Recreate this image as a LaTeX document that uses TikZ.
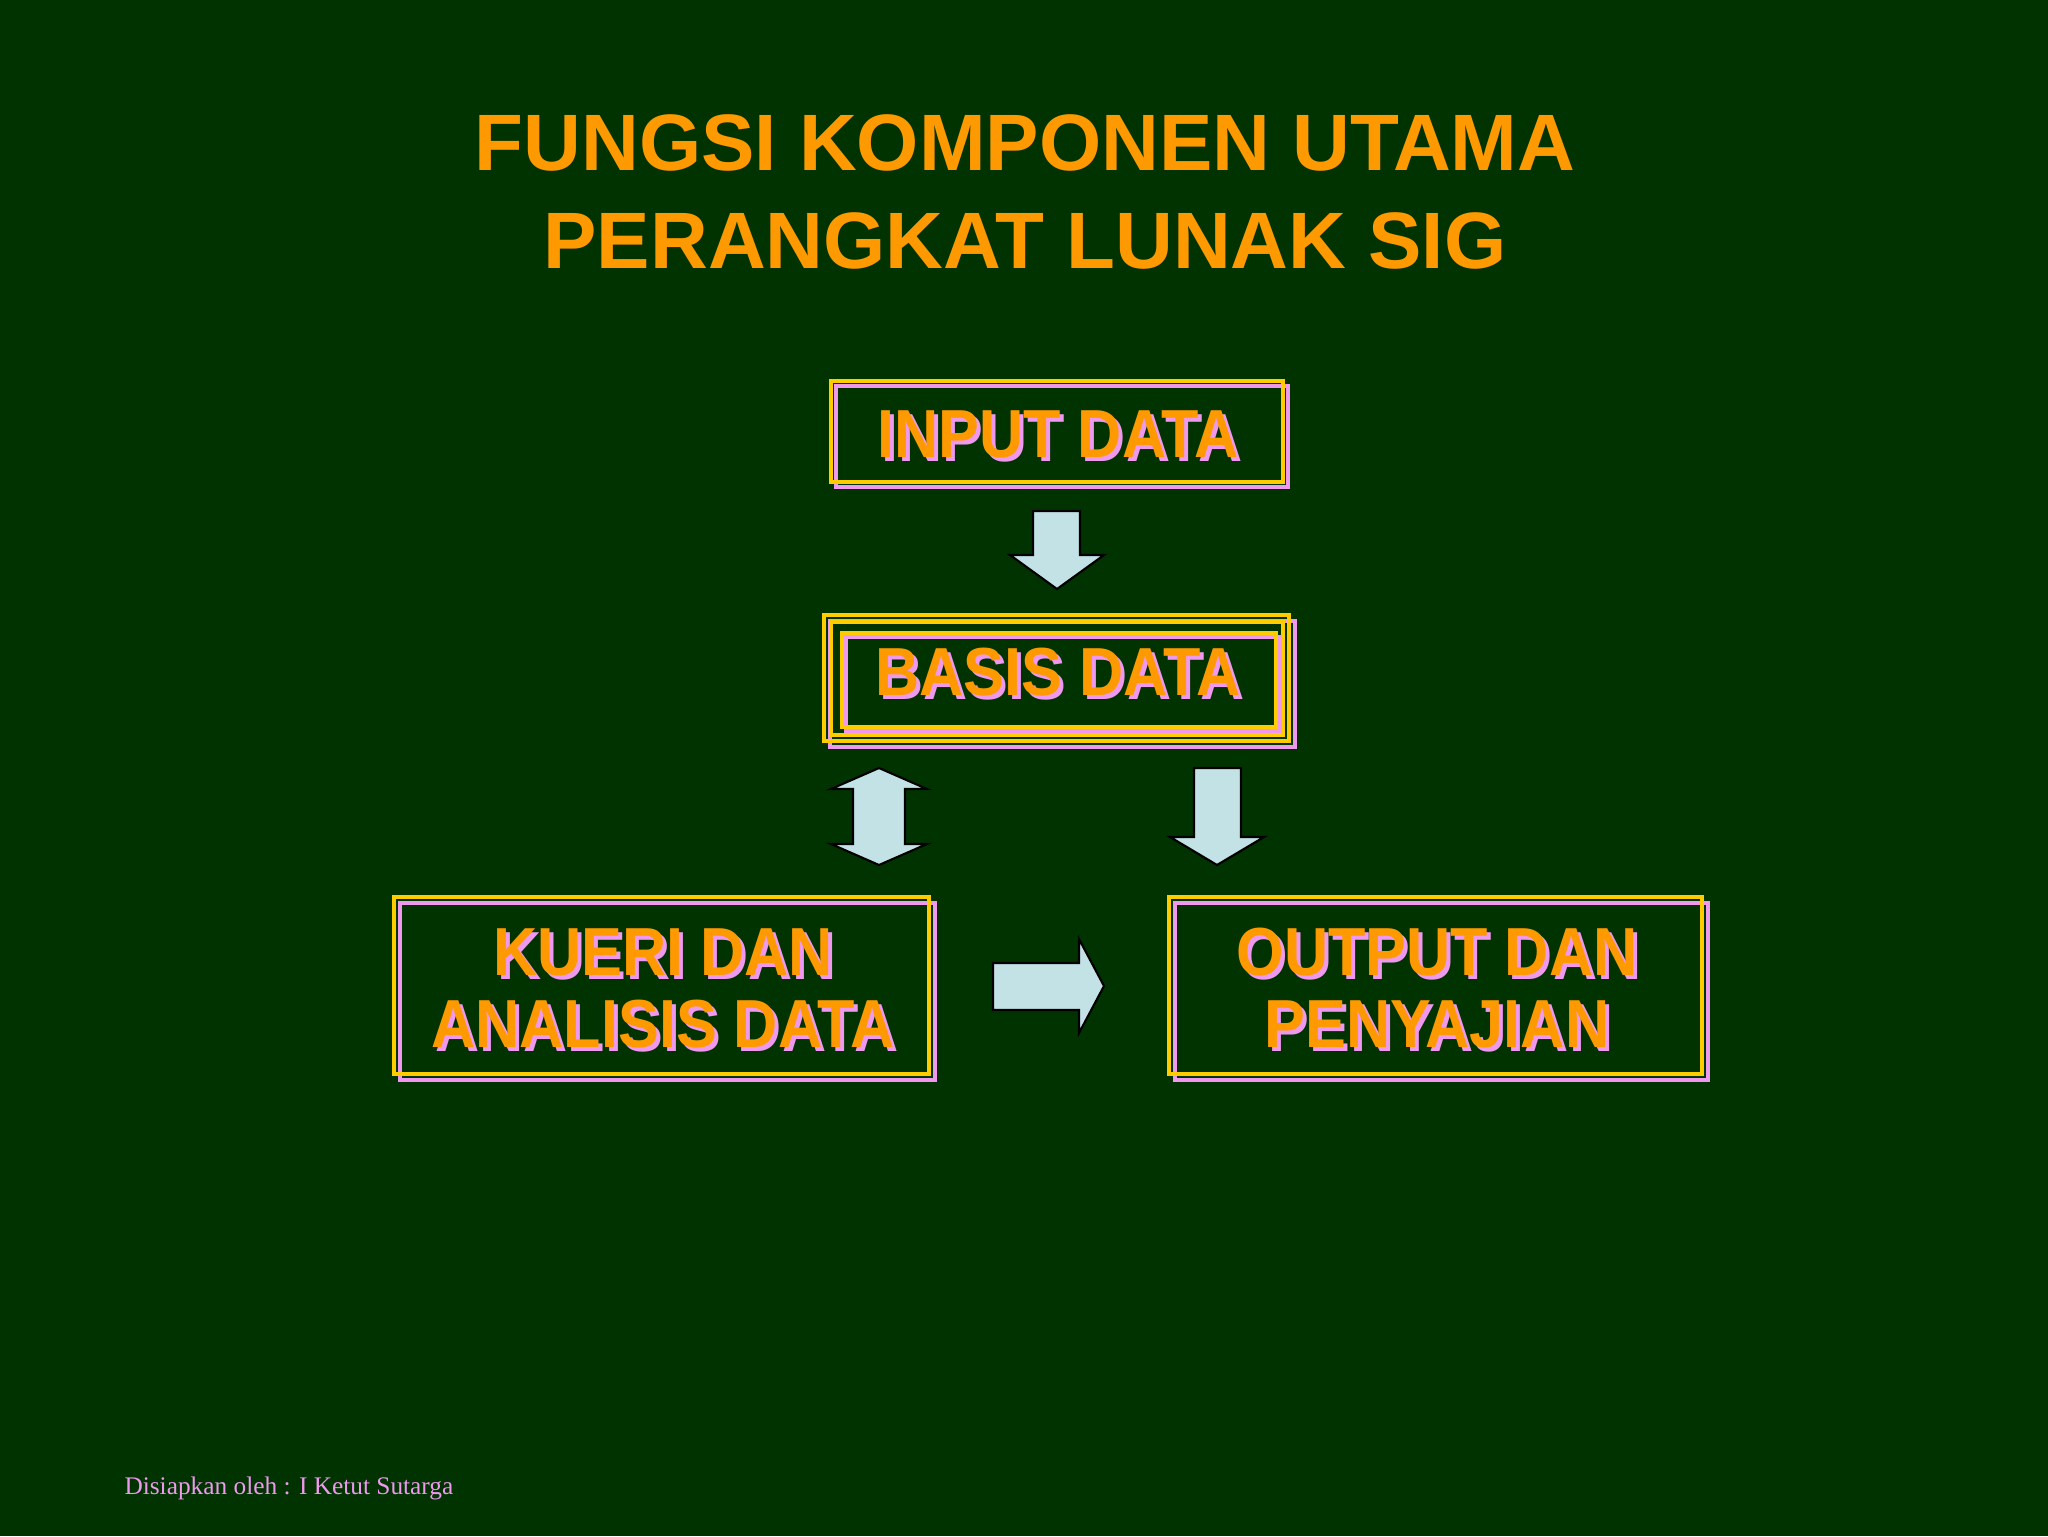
\documentclass[tikz,border=0pt]{standalone}
\usepackage{fontspec}
\setmainfont{Liberation Sans}
\newfontfamily\footfont{Liberation Serif}
\newfontfamily\boxfont[FakeStretch=0.9]{Liberation Sans}
\definecolor{bg}{HTML}{003300}
\definecolor{org}{HTML}{FF9900}
\definecolor{yel}{HTML}{FFCC00}
\definecolor{pnk}{HTML}{EE99EE}
\definecolor{arr}{HTML}{C2E2E6}
\tikzset{x=0.375pt,y=-0.375pt,
  ybox/.style={draw=yel,line width=1.2pt},
  pbox/.style={draw=pnk,line width=1.2pt},
  blk/.style={fill=arr,draw=black,line width=0.8pt},
  lbl/.style={font=\boxfont\bfseries\fontsize{25.5}{29}\selectfont,align=center,inner sep=0pt},
}
\newcommand{\shtext}[3]{%
  \node[lbl,text=pnk] at ([xshift=1.5pt,yshift=-1.5pt]#1) {#3};
  \node[lbl,text=org] (#2) at (#1) {#3};}
\begin{document}
\begin{tikzpicture}
\fill[bg] (0,0) rectangle (2048,1536);
\useasboundingbox (0,0) rectangle (2048,1536);
\node[text=org,font=\bfseries\fontsize{30}{36.5}\selectfont,align=center] (title) at (1025,192) {FUNGSI KOMPONEN UTAMA\\PERANGKAT LUNAK SIG};
% INPUT box
\draw[pbox] (836,386) rectangle (1288,487);
\draw[ybox] (831,381) rectangle (1283,482);
\coordinate (ic) at (1058,434);
\shtext{ic}{input}{INPUT DATA}
% BASIS box
\draw[pbox] (830,621) rectangle (1295,747);
\draw[ybox] (824,615) rectangle (1289,741);
\draw[ybox] (831,622) rectangle (1283,735);
\draw[pbox] (846,637) rectangle (1280,731);
\draw[ybox] (842,633) rectangle (1276,727);
\coordinate (bc) at (1058,672);
\shtext{bc}{basis}{BASIS DATA}
% KUERI box
\draw[pbox] (400,903) rectangle (935,1080);
\draw[ybox] (394,897) rectangle (929,1074);
\coordinate (kc) at (663,988);
\shtext{kc}{kueri}{KUERI DAN\\[-2pt]ANALISIS DATA}
% OUTPUT box
\draw[pbox] (1175,903) rectangle (1708,1080);
\draw[ybox] (1169,897) rectangle (1702,1074);
\coordinate (oc) at (1437,988);
\shtext{oc}{output}{OUTPUT DAN\\[-2pt]PENYAJIAN}
% arrows
\draw[blk] (1033,511) -- (1080,511) -- (1080,555) -- (1104,555) -- (1057,589) -- (1010,555) -- (1033,555) -- cycle;
\draw[blk] (831,789) -- (879,768) -- (927,789) -- (905,789) -- (905,844) -- (927,844) -- (879,865) -- (831,844) -- (853,844) -- (853,789) -- cycle;
\draw[blk] (1194,768) -- (1241,768) -- (1241,837) -- (1264,837) -- (1217,865) -- (1170,837) -- (1194,837) -- cycle;
\draw[blk] (993,963) -- (1079,963) -- (1079,939) -- (1104,986) -- (1079,1033) -- (1079,1010) -- (993,1010) -- cycle;
\node[anchor=west,text=pnk,font=\footfont\fontsize{9.5}{11}\selectfont,inner sep=0pt] (foot) at (124,1488) {Disiapkan oleh : I Ketut Sutarga};
\end{tikzpicture}
\end{document}
